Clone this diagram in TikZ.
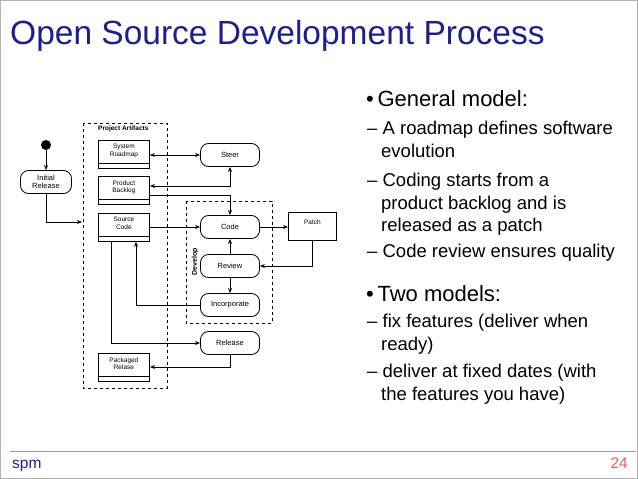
\documentclass[tikz,border=0pt]{standalone}
\usepackage{fontspec}
\setmainfont{Liberation Sans}
\usetikzlibrary{arrows.meta}
\definecolor{ttl}{RGB}{30,30,140}
\definecolor{pg}{RGB}{240,90,90}
\definecolor{rule}{RGB}{140,150,210}
\begin{document}
\begin{tikzpicture}[x=1pt,y=-1pt,
 act/.style={draw,line width=0.8pt,rounded corners=8pt,minimum width=59pt,minimum height=23pt,font=\fontsize{7.5}{8}\selectfont,align=center},
 art/.style={draw,line width=0.8pt,minimum width=51pt,minimum height=28pt,font=\fontsize{6.5}{7.5}\selectfont,align=center,anchor=north west,inner sep=1pt,text depth=8pt},
 ln/.style={line width=0.8pt,-{Stealth[length=5pt,width=4pt]}},
 lr/.style={line width=0.8pt,{Stealth[length=5pt,width=4pt]}-{Stealth[length=5pt,width=4pt]}},
 dbox/.style={draw,dashed,line width=0.8pt},
 bl/.style={anchor=base west,font=\fontsize{22}{24}\selectfont},
 sb/.style={anchor=base west,font=\fontsize{18.5}{20}\selectfont}]
\useasboundingbox (0,0) rectangle (638,479);
\draw[gray!60] (0.5,0.5) rectangle (637.5,478.5);
\node[anchor=base west,text=ttl,font=\fontsize{33.5}{35}\selectfont,inner sep=0] (title) at (10,44) {Open Source Development Process};
\draw[rule] (10,451) -- (636,451);
\node[anchor=base west,text=ttl,font=\fontsize{15.5}{16}\selectfont,inner sep=0] (spm) at (12,468) {spm};
\node[anchor=base east,text=pg,font=\fontsize{15.5}{16}\selectfont,inner sep=0] (pgn) at (628,468) {24};
% bullets
\node[bl,inner sep=0] (b1) at (366,106) {\textbullet\,General model:};
\node[sb,inner sep=0] (s1) at (367,134) {– A roadmap defines software};
\node[sb,inner sep=0] (s1b) at (381,157) {evolution};
\node[sb,inner sep=0] (s2) at (367,186) {– Coding starts from a};
\node[sb,inner sep=0] (s2b) at (381,209) {product backlog and is};
\node[sb,inner sep=0] (s2c) at (381,231) {released as a patch};
\node[sb,inner sep=0] (s3) at (367,257) {– Code review ensures quality};
\node[bl,inner sep=0] (b2) at (366,301) {\textbullet\,Two models:};
\node[sb,inner sep=0] (s4) at (367,327) {– fix features (deliver when};
\node[sb,inner sep=0] (s4b) at (381,350) {ready)};
\node[sb,inner sep=0] (s5) at (367,377) {– deliver at fixed dates (with};
\node[sb,inner sep=0] (s5b) at (381,400) {the features you have)};
% containers
\draw[dbox] (83,123) rectangle (167,388);
\node[anchor=north west,font=\bfseries\fontsize{6.5}{7}\selectfont,inner sep=0] (pa) at (98,126) {Project Artifacts};
\draw[dbox] (186,201) rectangle (272,323);
\node[rotate=90,font=\bfseries\fontsize{7}{7}\selectfont,inner sep=0] (dv) at (195,262) {Develop};
% nodes
\fill (46,145) circle (5);
\coordinate (dot) at (46,150);
\node[act,minimum width=51pt] (ir) at (46,182) {Initial\\Release};
\node[art] (sr) at (98,140) {System\\Roadmap};
\node[art] (pb) at (98,176) {Product\\Backlog};
\node[art] (sc) at (98,213) {Source\\Code};
\node[art] (pr) at (98,353) {Packaged\\Relase};
\foreach \n in {sr,pb,sc,pr}{\draw[line width=0.6pt] ([yshift=6pt]\n.south west) -- ([yshift=6pt]\n.south east);}
\node[act] (steer) at (230,155) {Steer};
\node[act] (code) at (230,227) {Code};
\node[act] (rev) at (230,266) {Review};
\node[act] (inc) at (230,305) {Incorporate};
\node[act] (rel) at (230,343) {Release};
\node[art,minimum width=48pt] (pt) at (288,212) {Patch};
\coordinate (paw) at (82,222);
\coordinate (prin) at (150,367);
\coordinate (pb1) at (150,186);
\coordinate (pb2) at (150,195);
% edges
\draw[ln] (dot) -- (ir);
\draw[ln] (ir.south) |- (paw);
\draw[lr] (sr.east |- steer) -- (steer.west);
\draw[lr] (pb1) -| (steer.south);
\draw[ln] (pb2) -| (code.north);
\draw[ln] (sc.east |- code) -- (code.west);
\draw[ln] (code.east) -- (pt.west |- code);
\draw[ln] (pt.south) |- (rev.east);
\draw[ln] (rev) -- (code);
\draw[ln] (rev) -- (inc);
\draw[ln] (inc.west) -| ([xshift=38pt]sc.south west);
\draw[ln] ([xshift=13pt]sc.south west) |- (rel.west);
\draw[ln] (rel.south) |- (prin);
\end{tikzpicture}
\end{document}
